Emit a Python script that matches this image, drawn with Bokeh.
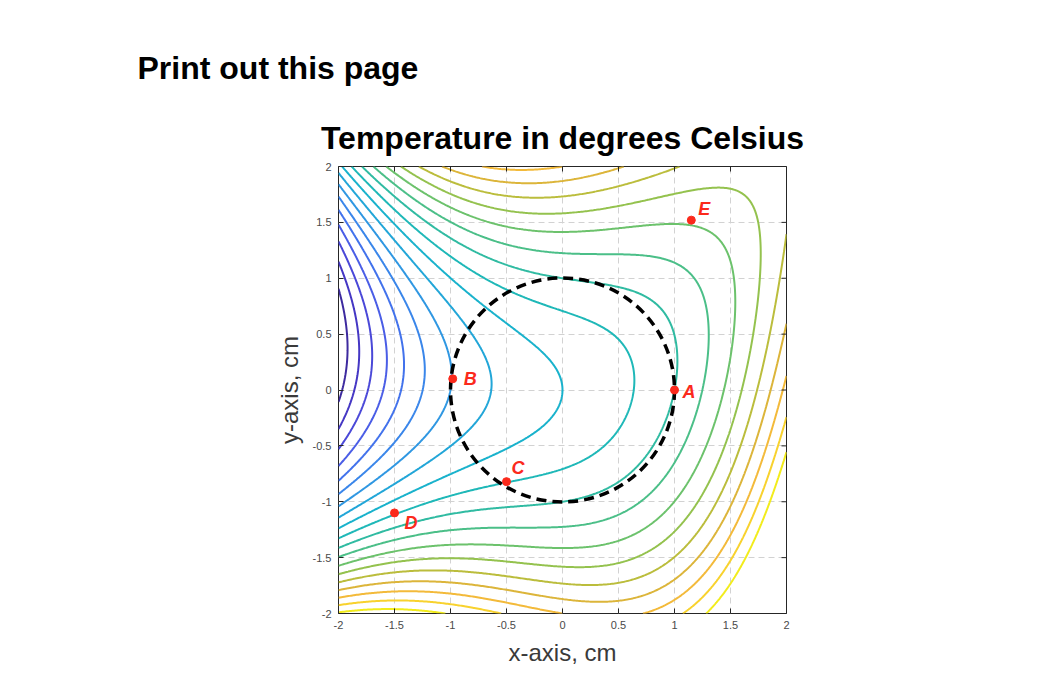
import math
import numpy as np
from bokeh.plotting import figure
from bokeh.models import Range1d, FixedTicker, Title, ColumnDataSource
from bokeh.embed import file_html
from bokeh.resources import INLINE
from bokeh.core.properties import value

# ---- surface (temperature in contour-level units) ----
coef_x = 1.28
coef_x3 = 0.72
coef_y2 = 2.0
coef_x2y = -0.66
coef_xy2 = -0.65

contour_levels = list(range(-8, 11))

# ---- marked points ----
point_names = ["A", "B", "C", "D", "E"]
point_x = [1.0, -0.98, -0.5, -1.5, 1.15]
point_y = [0.0, 0.1, -0.82, -1.1, 1.52]

# ---- constraint circle ----
circle_center_x = [0.0]
circle_center_y = [0.0]
circle_radius = 1.0

# ---- axes ----
axis_min, axis_max = -2.0, 2.0
tick_values = [-2, -1.5, -1, -0.5, 0, 0.5, 1, 1.5, 2]
tick_labels = ["-2", "-1.5", "-1", "-0.5", "0", "0.5", "1", "1.5", "2"]

# ---- styles ----
level_colors = ["#3d2a9f", "#4537c4", "#4a48d8", "#4a5de6", "#4272ec", "#3a86ea",
                "#2f97e2", "#22a6d8", "#19b2cc", "#1fb8b8", "#30bba2", "#4bbf88",
                "#6cc26c", "#94c24e", "#bbbd3c", "#dcb53a", "#f3ba3a", "#f8d22e",
                "#f2ec1c"]
label_dx = [8, 11, 5, 10, 7]
label_dy = [2, 0, -14, 10, -11]
RED = "#fb2a1c"
FONT = "Liberation Sans"
BOX = "#262626"

gx = np.linspace(axis_min, axis_max, 321)
gy = np.linspace(axis_min, axis_max, 321)
X, Y = np.meshgrid(gx, gy)
Z = coef_x * X + coef_x3 * X**3 + coef_y2 * Y**2 + coef_x2y * X**2 * Y + coef_xy2 * X * Y**2

p = figure(width=1052, height=699, x_range=Range1d(axis_min, axis_max),
           y_range=Range1d(axis_min, axis_max),
           min_border_left=338, min_border_right=266, min_border_top=166, min_border_bottom=86,
           output_backend="svg", toolbar_location=None,
           background_fill_color="white", border_fill_color="white")
p.title.text = ""
p.title.standoff = 0
p.outline_line_color = BOX
p.outline_line_width = 1

for ax in (p.xaxis[0], p.yaxis[0]):
    ax.ticker = FixedTicker(ticks=tick_values)
    ax.major_label_overrides = {v: s for v, s in zip(tick_values, tick_labels)}
    ax.major_tick_in = 5
    ax.major_tick_out = 0
    ax.minor_tick_line_color = None
    ax.axis_line_color = None
    ax.major_tick_line_color = BOX
    ax.major_label_text_font = FONT
    ax.major_label_text_font_size = "11px"
    ax.major_label_text_color = "#4a4a4a"
    ax.major_label_standoff = 7
    ax.axis_label_text_font = FONT
    ax.axis_label_text_font_size = "24px"
    ax.axis_label_text_font_style = "normal"
    ax.axis_label_text_color = "#3a3a3a"
    ax.axis_label_standoff = 7
p.xaxis[0].axis_label = "x-axis, cm"
p.yaxis[0].axis_label = "y-axis, cm"

p.add_layout(Title(text="Temperature in degrees Celsius", align="center", text_font=FONT,
                   text_font_size="32px", text_font_style="bold", text_color="black",
                   standoff=22), "above")
p.add_layout(Title(text="Print out this page", align="left", offset=-201, text_font=FONT,
                   text_font_size="32px", text_font_style="bold", text_color="black",
                   standoff=42), "above")

p.xgrid.ticker = FixedTicker(ticks=tick_values)
p.ygrid.ticker = FixedTicker(ticks=tick_values)
for g in (p.xgrid, p.ygrid):
    g.grid_line_color = "#d2d2d2"
    g.grid_line_dash = "6 4"
    g.grid_line_width = 1

p.contour(gx, gy, Z, levels=contour_levels, line_color=level_colors, line_width=2)

# inward tick marks on the top and right edges of the box (half of each dash is clipped)
p.scatter(x=tick_values, y=[axis_max] * len(tick_values), marker="dash", size=10,
          angle=math.pi / 2, line_color=BOX, line_width=1)
p.scatter(x=[axis_max] * len(tick_values), y=tick_values, marker="dash", size=10,
          line_color=BOX, line_width=1)

p.circle(x=circle_center_x, y=circle_center_y, radius=circle_radius, fill_color=None,
         line_color="black", line_width=3.5, line_dash="10 6")

src = ColumnDataSource(dict(x=point_x, y=point_y, name=point_names, dx=label_dx, dy=label_dy))
p.scatter("x", "y", source=src, size=8, color=RED)
p.text("x", "y", text="name", source=src, x_offset="dx", y_offset="dy",
       text_font=value(FONT), text_font_style="bold italic", text_font_size="18px",
       text_color=RED, text_baseline="middle", text_align="left")

open("out.html", "w").write(file_html(p, INLINE))
